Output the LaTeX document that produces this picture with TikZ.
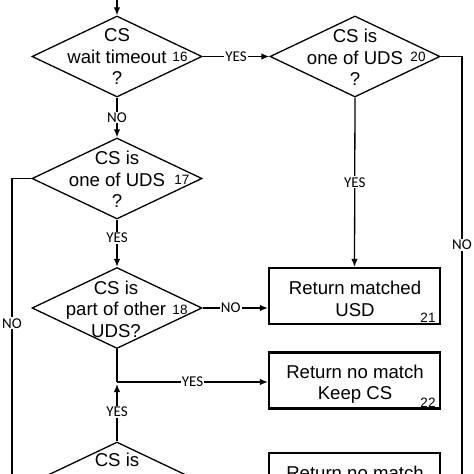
\documentclass[tikz,border=0pt]{standalone}
\usepackage{fontspec}
\setmainfont{Liberation Sans}
\newfontfamily\labfont{Carlito}
\usetikzlibrary{shapes.geometric,arrows.meta}
\begin{document}
\begin{tikzpicture}[x=1pt,y=-1pt,
 dec/.style={draw,diamond,minimum width=170pt,minimum height=81pt,inner sep=0pt,line width=1.3pt},
 box/.style={draw,rectangle,minimum width=171pt,minimum height=56pt,inner sep=0pt,line width=2.2pt},
 txt/.style={font=\fontsize{18.6}{21.5}\selectfont,align=center,inner sep=0pt},
 num/.style={font=\fontsize{13.5}{13.5}\selectfont,inner sep=0pt},
 lab/.style={font=\labfont\fontsize{15}{15}\selectfont,fill=white,inner sep=1pt},
 conn/.style={line width=1.3pt},
 arr/.style={conn,-{Latex[length=8pt,width=6.5pt]}}
]
\useasboundingbox (0,0) rectangle (474,474);
\clip (0,0) rectangle (474,474);
% decisions
\node[dec] (d16) at (117,56.5) {};
\node[dec] (d17) at (117,178.5) {};
\node[dec] (d18) at (117,308) {};
\node[dec] (d19) at (117,482.5) {};
\node[dec] (d20) at (355,56.5) {};
% boxes
\node[box] (b21) at (354.5,296) {};
\node[box] (b22) at (354.5,380.5) {};
\node[box] (b23) at (354.5,481) {};
% texts
\node[txt] (t16) at (117,57) {CS\\wait timeout\\?};
\node[txt] (t17) at (117,179.5) {CS is\\one of UDS\\?};
\node[txt] (t18) at (116,309) {CS is\\part of other\\UDS?};
\node[txt] (t20) at (355,57.5) {CS is\\one of UDS\\?};
\node[txt] (t19) at (117,460) {CS is};
\node[txt] (t21) at (355,299) {Return matched\\USD};
\node[txt] (t22) at (355,384) {Return no match\\Keep CS};
\node[txt] (t23) at (355,473) {Return no match};
% numbers
\node[num] (n16) at (180,57) {16};
\node[num] (n17) at (182,180) {17};
\node[num] (n18) at (180,310) {18};
\node[num] (n20) at (418,57) {20};
\node[num] (n21) at (428,318) {21};
\node[num] (n22) at (428,403) {22};
% connectors
\coordinate (top) at (117,0);
\coordinate (j) at (117,382);
\coordinate (r1) at (462,56.5);
\coordinate (r2) at (462,490);
\coordinate (l1) at (12,178.5);
\coordinate (l2) at (12,490);
\draw[arr] (top) -- (d16.north);
\draw[arr] (d16.south) -- node[lab]{NO} (d17.north);
\draw[arr] (d17.south) -- node[lab,pos=0.38]{YES} (d18.north);
\draw[arr] (d16.east) -- node[lab]{YES} (d20.west);
\draw[arr] (d20.south) -- node[lab]{YES} (b21.north);
\draw[arr] (d18.east) -- node[lab,pos=0.43]{NO} (d18.east -| b21.west);
\draw[conn] (d18.south) -- (j);
\draw[arr] (j) -- node[lab]{YES} (j -| b22.west);
\draw[arr,shorten >=2pt] (d19.north) -- node[lab]{YES} (j);
\draw[conn] (d20.east) -- (r1) -- node[lab,pos=0.435]{NO} (r2);
\draw[conn] (d17.west) -- (l1) -- node[lab,pos=0.465]{NO} (l2);
\end{tikzpicture}
\end{document}
